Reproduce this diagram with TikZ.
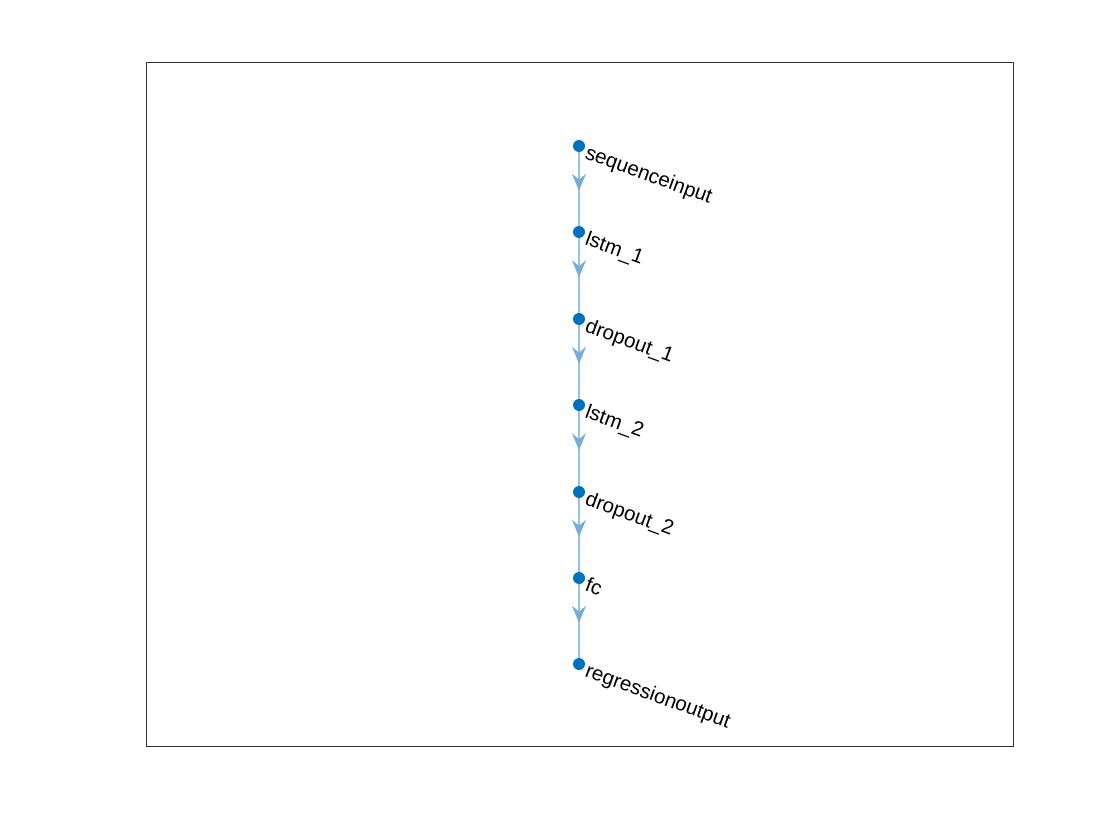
\documentclass[tikz,border=0pt]{standalone}
\usepackage{fontspec}
\setmainfont{Liberation Sans}
\usetikzlibrary{arrows.meta,decorations.markings}
\definecolor{nodeblue}{RGB}{0,114,189}
\definecolor{edgeblue}{RGB}{150,195,228}
\definecolor{tipblue}{RGB}{115,172,215}
\tikzset{x=1pt,y=-1pt,
 vert/.style={circle,fill=nodeblue,inner sep=0pt,minimum size=12pt},
 lbl/.style={anchor=north west,rotate=-20,font=\fontsize{20.5}{20.5}\selectfont,inner sep=0pt},
 edge/.style={draw=edgeblue,line width=1.5pt,postaction={decorate},
   decoration={markings,mark=at position 0.52 with {\arrow{Stealth[length=17pt,width=14pt,inset=6pt,fill=tipblue,color=tipblue]}}}}}
\begin{document}
\begin{tikzpicture}
\useasboundingbox (0,0) rectangle (1120,840);
\draw[line width=0.6pt,black!80] (146,62) rectangle (1013,746);
\foreach \n/\y in {a/146,b/232,c/319,d/405,e/492,f/578,g/664}{
  \coordinate (\n) at (579,\y);
}
\foreach \u/\v in {a/b,b/c,c/d,d/e,e/f,f/g}{\path[edge] (\u) -- (\v);}
\foreach \n/\y/\t in {a/146/sequenceinput,b/232/lstm\_1,c/319/dropout\_1,d/405/lstm\_2,e/492/dropout\_2,f/578/fc,g/664/regressionoutput}{
  \node[vert] (\n n) at (\n) {};
  \node[lbl] (\n l) at (589,\y-2) {\t};
}
\end{tikzpicture}
\end{document}
